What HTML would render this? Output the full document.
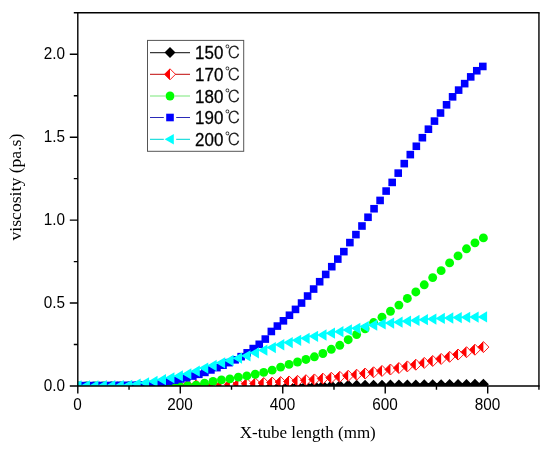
<!DOCTYPE html>
<html lang="en"><head><meta charset="utf-8"><title>Viscosity along X-tube length</title>
<style>html,body{margin:0;padding:0;background:#fff}svg{display:block}.t{font-family:"Liberation Sans","Noto Sans CJK SC",sans-serif;font-size:15.3px;fill:#000}.l{font-family:"Liberation Sans","IPAGothic",sans-serif;font-size:17.2px;fill:#000;stroke:#000;stroke-width:0.25px}.c{font-family:"Liberation Sans","IPAGothic",sans-serif;font-size:16.5px;fill:#222;stroke:none}.s{font-family:"Liberation Serif","Noto Serif CJK SC",serif;font-size:17px;fill:#000}</style></head><body>
<svg width="550" height="449" viewBox="0 0 550 449">
<rect width="550" height="449" fill="#fff"/>
<defs><clipPath id="cp"><rect x="77.8" y="12.78" width="461.14" height="373.22"/></clipPath></defs>
<g clip-path="url(#cp)">
<path fill="#000" d="M165.25 385.92L170.75 380.42L176.25 385.92L170.75 391.42ZM173.7 385.9L179.2 380.4L184.7 385.9L179.2 391.4ZM182.15 385.89L187.65 380.39L193.15 385.89L187.65 391.39ZM190.6 385.87L196.1 380.37L201.6 385.87L196.1 391.37ZM199.05 385.85L204.55 380.35L210.05 385.85L204.55 391.35ZM207.5 385.83L213 380.33L218.5 385.83L213 391.33ZM215.95 385.81L221.45 380.31L226.95 385.81L221.45 391.31ZM224.4 385.79L229.9 380.29L235.4 385.79L229.9 391.29ZM232.85 385.77L238.35 380.27L243.85 385.77L238.35 391.27ZM241.3 385.75L246.8 380.25L252.3 385.75L246.8 391.25ZM249.75 385.73L255.25 380.23L260.75 385.73L255.25 391.23ZM258.2 385.7L263.7 380.2L269.2 385.7L263.7 391.2ZM266.65 385.68L272.15 380.18L277.65 385.68L272.15 391.18ZM275.1 385.66L280.6 380.16L286.1 385.66L280.6 391.16ZM283.55 385.63L289.05 380.13L294.55 385.63L289.05 391.13ZM292 385.61L297.5 380.11L303 385.61L297.5 391.11ZM300.45 385.58L305.95 380.08L311.45 385.58L305.95 391.08ZM308.9 385.55L314.4 380.05L319.9 385.55L314.4 391.05ZM317.35 385.51L322.85 380.01L328.35 385.51L322.85 391.01ZM325.8 385.47L331.3 379.97L336.8 385.47L331.3 390.97ZM334.25 385.42L339.75 379.92L345.25 385.42L339.75 390.92ZM342.7 385.37L348.2 379.87L353.7 385.37L348.2 390.87ZM351.15 385.31L356.65 379.81L362.15 385.31L356.65 390.81ZM359.6 385.25L365.1 379.75L370.6 385.25L365.1 390.75ZM368.05 385.19L373.55 379.69L379.05 385.19L373.55 390.69ZM376.5 385.13L382 379.63L387.5 385.13L382 390.63ZM384.95 385.07L390.45 379.57L395.95 385.07L390.45 390.57ZM393.4 385.01L398.9 379.51L404.4 385.01L398.9 390.51ZM401.85 384.94L407.35 379.44L412.85 384.94L407.35 390.44ZM410.3 384.88L415.8 379.38L421.3 384.88L415.8 390.38ZM418.75 384.8L424.25 379.3L429.75 384.8L424.25 390.3ZM427.2 384.73L432.7 379.23L438.2 384.73L432.7 390.23ZM435.65 384.65L441.15 379.15L446.65 384.65L441.15 390.15ZM444.1 384.56L449.6 379.06L455.1 384.56L449.6 390.06ZM452.55 384.48L458.05 378.98L463.55 384.48L458.05 389.98ZM461 384.39L466.5 378.89L472 384.39L466.5 389.89ZM469.45 384.3L474.95 378.8L480.45 384.3L474.95 389.8ZM477.9 384.21L483.4 378.71L488.9 384.21L483.4 389.71Z"/>
<g>
<path fill="#fff" stroke="#f00" stroke-width="0.9" d="M165.25 385.7L170.75 380.2L176.25 385.7L170.75 391.2Z"/><path fill="#f00" d="M170.75 380.2L165.25 385.7L170.75 391.2Z"/>
<path fill="#fff" stroke="#f00" stroke-width="0.9" d="M173.7 385.6L179.2 380.1L184.7 385.6L179.2 391.1Z"/><path fill="#f00" d="M179.2 380.1L173.7 385.6L179.2 391.1Z"/>
<path fill="#fff" stroke="#f00" stroke-width="0.9" d="M182.15 385.48L187.65 379.98L193.15 385.48L187.65 390.98Z"/><path fill="#f00" d="M187.65 379.98L182.15 385.48L187.65 390.98Z"/>
<path fill="#fff" stroke="#f00" stroke-width="0.9" d="M190.6 385.33L196.1 379.83L201.6 385.33L196.1 390.83Z"/><path fill="#f00" d="M196.1 379.83L190.6 385.33L196.1 390.83Z"/>
<path fill="#fff" stroke="#f00" stroke-width="0.9" d="M199.05 385.16L204.55 379.66L210.05 385.16L204.55 390.66Z"/><path fill="#f00" d="M204.55 379.66L199.05 385.16L204.55 390.66Z"/>
<path fill="#fff" stroke="#f00" stroke-width="0.9" d="M207.5 384.96L213 379.46L218.5 384.96L213 390.46Z"/><path fill="#f00" d="M213 379.46L207.5 384.96L213 390.46Z"/>
<path fill="#fff" stroke="#f00" stroke-width="0.9" d="M215.95 384.73L221.45 379.23L226.95 384.73L221.45 390.23Z"/><path fill="#f00" d="M221.45 379.23L215.95 384.73L221.45 390.23Z"/>
<path fill="#fff" stroke="#f00" stroke-width="0.9" d="M224.4 384.47L229.9 378.97L235.4 384.47L229.9 389.97Z"/><path fill="#f00" d="M229.9 378.97L224.4 384.47L229.9 389.97Z"/>
<path fill="#fff" stroke="#f00" stroke-width="0.9" d="M232.85 384.17L238.35 378.67L243.85 384.17L238.35 389.67Z"/><path fill="#f00" d="M238.35 378.67L232.85 384.17L238.35 389.67Z"/>
<path fill="#fff" stroke="#f00" stroke-width="0.9" d="M241.3 383.84L246.8 378.34L252.3 383.84L246.8 389.34Z"/><path fill="#f00" d="M246.8 378.34L241.3 383.84L246.8 389.34Z"/>
<path fill="#fff" stroke="#f00" stroke-width="0.9" d="M249.75 383.46L255.25 377.96L260.75 383.46L255.25 388.96Z"/><path fill="#f00" d="M255.25 377.96L249.75 383.46L255.25 388.96Z"/>
<path fill="#fff" stroke="#f00" stroke-width="0.9" d="M258.2 383.04L263.7 377.54L269.2 383.04L263.7 388.54Z"/><path fill="#f00" d="M263.7 377.54L258.2 383.04L263.7 388.54Z"/>
<path fill="#fff" stroke="#f00" stroke-width="0.9" d="M266.65 382.57L272.15 377.07L277.65 382.57L272.15 388.07Z"/><path fill="#f00" d="M272.15 377.07L266.65 382.57L272.15 388.07Z"/>
<path fill="#fff" stroke="#f00" stroke-width="0.9" d="M275.1 382.05L280.6 376.55L286.1 382.05L280.6 387.55Z"/><path fill="#f00" d="M280.6 376.55L275.1 382.05L280.6 387.55Z"/>
<path fill="#fff" stroke="#f00" stroke-width="0.9" d="M283.55 381.48L289.05 375.98L294.55 381.48L289.05 386.98Z"/><path fill="#f00" d="M289.05 375.98L283.55 381.48L289.05 386.98Z"/>
<path fill="#fff" stroke="#f00" stroke-width="0.9" d="M292 380.86L297.5 375.36L303 380.86L297.5 386.36Z"/><path fill="#f00" d="M297.5 375.36L292 380.86L297.5 386.36Z"/>
<path fill="#fff" stroke="#f00" stroke-width="0.9" d="M300.45 380.17L305.95 374.67L311.45 380.17L305.95 385.67Z"/><path fill="#f00" d="M305.95 374.67L300.45 380.17L305.95 385.67Z"/>
<path fill="#fff" stroke="#f00" stroke-width="0.9" d="M308.9 379.43L314.4 373.93L319.9 379.43L314.4 384.93Z"/><path fill="#f00" d="M314.4 373.93L308.9 379.43L314.4 384.93Z"/>
<path fill="#fff" stroke="#f00" stroke-width="0.9" d="M317.35 378.62L322.85 373.12L328.35 378.62L322.85 384.12Z"/><path fill="#f00" d="M322.85 373.12L317.35 378.62L322.85 384.12Z"/>
<path fill="#fff" stroke="#f00" stroke-width="0.9" d="M325.8 377.75L331.3 372.25L336.8 377.75L331.3 383.25Z"/><path fill="#f00" d="M331.3 372.25L325.8 377.75L331.3 383.25Z"/>
<path fill="#fff" stroke="#f00" stroke-width="0.9" d="M334.25 376.81L339.75 371.31L345.25 376.81L339.75 382.31Z"/><path fill="#f00" d="M339.75 371.31L334.25 376.81L339.75 382.31Z"/>
<path fill="#fff" stroke="#f00" stroke-width="0.9" d="M342.7 375.79L348.2 370.29L353.7 375.79L348.2 381.29Z"/><path fill="#f00" d="M348.2 370.29L342.7 375.79L348.2 381.29Z"/>
<path fill="#fff" stroke="#f00" stroke-width="0.9" d="M351.15 374.7L356.65 369.2L362.15 374.7L356.65 380.2Z"/><path fill="#f00" d="M356.65 369.2L351.15 374.7L356.65 380.2Z"/>
<path fill="#fff" stroke="#f00" stroke-width="0.9" d="M359.6 373.53L365.1 368.03L370.6 373.53L365.1 379.03Z"/><path fill="#f00" d="M365.1 368.03L359.6 373.53L365.1 379.03Z"/>
<path fill="#fff" stroke="#f00" stroke-width="0.9" d="M368.05 372.28L373.55 366.78L379.05 372.28L373.55 377.78Z"/><path fill="#f00" d="M373.55 366.78L368.05 372.28L373.55 377.78Z"/>
<path fill="#fff" stroke="#f00" stroke-width="0.9" d="M376.5 370.95L382 365.45L387.5 370.95L382 376.45Z"/><path fill="#f00" d="M382 365.45L376.5 370.95L382 376.45Z"/>
<path fill="#fff" stroke="#f00" stroke-width="0.9" d="M384.95 369.52L390.45 364.02L395.95 369.52L390.45 375.02Z"/><path fill="#f00" d="M390.45 364.02L384.95 369.52L390.45 375.02Z"/>
<path fill="#fff" stroke="#f00" stroke-width="0.9" d="M393.4 368.01L398.9 362.51L404.4 368.01L398.9 373.51Z"/><path fill="#f00" d="M398.9 362.51L393.4 368.01L398.9 373.51Z"/>
<path fill="#fff" stroke="#f00" stroke-width="0.9" d="M401.85 366.4L407.35 360.9L412.85 366.4L407.35 371.9Z"/><path fill="#f00" d="M407.35 360.9L401.85 366.4L407.35 371.9Z"/>
<path fill="#fff" stroke="#f00" stroke-width="0.9" d="M410.3 364.69L415.8 359.19L421.3 364.69L415.8 370.19Z"/><path fill="#f00" d="M415.8 359.19L410.3 364.69L415.8 370.19Z"/>
<path fill="#fff" stroke="#f00" stroke-width="0.9" d="M418.75 362.88L424.25 357.38L429.75 362.88L424.25 368.38Z"/><path fill="#f00" d="M424.25 357.38L418.75 362.88L424.25 368.38Z"/>
<path fill="#fff" stroke="#f00" stroke-width="0.9" d="M427.2 360.96L432.7 355.46L438.2 360.96L432.7 366.46Z"/><path fill="#f00" d="M432.7 355.46L427.2 360.96L432.7 366.46Z"/>
<path fill="#fff" stroke="#f00" stroke-width="0.9" d="M435.65 358.94L441.15 353.44L446.65 358.94L441.15 364.44Z"/><path fill="#f00" d="M441.15 353.44L435.65 358.94L441.15 364.44Z"/>
<path fill="#fff" stroke="#f00" stroke-width="0.9" d="M444.1 356.81L449.6 351.31L455.1 356.81L449.6 362.31Z"/><path fill="#f00" d="M449.6 351.31L444.1 356.81L449.6 362.31Z"/>
<path fill="#fff" stroke="#f00" stroke-width="0.9" d="M452.55 354.56L458.05 349.06L463.55 354.56L458.05 360.06Z"/><path fill="#f00" d="M458.05 349.06L452.55 354.56L458.05 360.06Z"/>
<path fill="#fff" stroke="#f00" stroke-width="0.9" d="M461 352.2L466.5 346.7L472 352.2L466.5 357.7Z"/><path fill="#f00" d="M466.5 346.7L461 352.2L466.5 357.7Z"/>
<path fill="#fff" stroke="#f00" stroke-width="0.9" d="M469.45 349.71L474.95 344.21L480.45 349.71L474.95 355.21Z"/><path fill="#f00" d="M474.95 344.21L469.45 349.71L474.95 355.21Z"/>
<path fill="#fff" stroke="#f00" stroke-width="0.9" d="M477.9 347.1L483.4 341.6L488.9 347.1L483.4 352.6Z"/><path fill="#f00" d="M483.4 341.6L477.9 347.1L483.4 352.6Z"/>
</g>
<g fill="#0f0"><circle cx="77.8" cy="386" r="4.45"/><circle cx="86.25" cy="386" r="4.45"/><circle cx="94.7" cy="386" r="4.45"/><circle cx="103.15" cy="386" r="4.45"/><circle cx="111.6" cy="386" r="4.45"/><circle cx="120.05" cy="386" r="4.45"/><circle cx="128.5" cy="386" r="4.45"/><circle cx="136.95" cy="386" r="4.45"/><circle cx="145.4" cy="386" r="4.45"/><circle cx="153.85" cy="386" r="4.45"/><circle cx="162.3" cy="386" r="4.45"/><circle cx="170.75" cy="386" r="4.45"/><circle cx="179.2" cy="386" r="4.45"/><circle cx="187.65" cy="385.78" r="4.45"/><circle cx="196.1" cy="385.14" r="4.45"/><circle cx="204.55" cy="383.27" r="4.45"/><circle cx="213" cy="381.4" r="4.45"/><circle cx="221.45" cy="379.83" r="4.45"/><circle cx="229.9" cy="378.83" r="4.45"/><circle cx="238.35" cy="377.17" r="4.45"/><circle cx="246.8" cy="375.92" r="4.45"/><circle cx="255.25" cy="374.25" r="4.45"/><circle cx="263.7" cy="372.42" r="4.45"/><circle cx="272.15" cy="370.13" r="4.45"/><circle cx="280.6" cy="367.11" r="4.45"/><circle cx="289.05" cy="364.4" r="4.45"/><circle cx="297.5" cy="361.98" r="4.45"/><circle cx="305.95" cy="359.43" r="4.45"/><circle cx="314.4" cy="356.78" r="4.45"/><circle cx="322.85" cy="353.49" r="4.45"/><circle cx="331.3" cy="349.3" r="4.45"/><circle cx="339.75" cy="345.3" r="4.45"/><circle cx="348.2" cy="339.72" r="4.45"/><circle cx="356.65" cy="334.48" r="4.45"/><circle cx="365.1" cy="328.77" r="4.45"/><circle cx="373.55" cy="322.53" r="4.45"/><circle cx="382" cy="317.17" r="4.45"/><circle cx="390.45" cy="311.26" r="4.45"/><circle cx="398.9" cy="305.1" r="4.45"/><circle cx="407.35" cy="298.44" r="4.45"/><circle cx="415.8" cy="291.94" r="4.45"/><circle cx="424.25" cy="284.81" r="4.45"/><circle cx="432.7" cy="277.58" r="4.45"/><circle cx="441.15" cy="270.64" r="4.45"/><circle cx="449.6" cy="262.89" r="4.45"/><circle cx="458.05" cy="255.89" r="4.45"/><circle cx="466.5" cy="248.81" r="4.45"/><circle cx="474.95" cy="242.84" r="4.45"/><circle cx="483.4" cy="237.9" r="4.45"/></g>
<g fill="#00f"><rect x="74.2" y="381.8" width="7.6" height="7.6"/><rect x="80.24" y="381.8" width="7.6" height="7.6"/><rect x="86.28" y="381.78" width="7.6" height="7.6"/><rect x="92.33" y="381.76" width="7.6" height="7.6"/><rect x="98.37" y="381.72" width="7.6" height="7.6"/><rect x="104.41" y="381.68" width="7.6" height="7.6"/><rect x="110.45" y="381.64" width="7.6" height="7.6"/><rect x="116.49" y="381.58" width="7.6" height="7.6"/><rect x="122.53" y="381.52" width="7.6" height="7.6"/><rect x="128.58" y="381.44" width="7.6" height="7.6"/><rect x="134.62" y="381.29" width="7.6" height="7.6"/><rect x="140.66" y="381.08" width="7.6" height="7.6"/><rect x="146.7" y="380.77" width="7.6" height="7.6"/><rect x="152.74" y="379.88" width="7.6" height="7.6"/><rect x="158.79" y="378.69" width="7.6" height="7.6"/><rect x="164.83" y="377.47" width="7.6" height="7.6"/><rect x="170.87" y="376.33" width="7.6" height="7.6"/><rect x="176.91" y="375.16" width="7.6" height="7.6"/><rect x="182.95" y="373.86" width="7.6" height="7.6"/><rect x="188.99" y="372.24" width="7.6" height="7.6"/><rect x="195.04" y="370.51" width="7.6" height="7.6"/><rect x="201.08" y="368.58" width="7.6" height="7.6"/><rect x="207.12" y="366.14" width="7.6" height="7.6"/><rect x="213.16" y="363.82" width="7.6" height="7.6"/><rect x="219.2" y="361.4" width="7.6" height="7.6"/><rect x="225.24" y="358.84" width="7.6" height="7.6"/><rect x="231.29" y="356.03" width="7.6" height="7.6"/><rect x="237.33" y="352.87" width="7.6" height="7.6"/><rect x="243.37" y="349.03" width="7.6" height="7.6"/><rect x="249.41" y="344.78" width="7.6" height="7.6"/><rect x="255.45" y="340.51" width="7.6" height="7.6"/><rect x="261.5" y="335.28" width="7.6" height="7.6"/><rect x="267.54" y="327.66" width="7.6" height="7.6"/><rect x="273.58" y="322.27" width="7.6" height="7.6"/><rect x="279.62" y="317.02" width="7.6" height="7.6"/><rect x="285.66" y="311.45" width="7.6" height="7.6"/><rect x="291.7" y="305.58" width="7.6" height="7.6"/><rect x="297.75" y="299.24" width="7.6" height="7.6"/><rect x="303.79" y="292.23" width="7.6" height="7.6"/><rect x="309.83" y="285.25" width="7.6" height="7.6"/><rect x="315.87" y="277.92" width="7.6" height="7.6"/><rect x="321.91" y="270.63" width="7.6" height="7.6"/><rect x="327.96" y="262.89" width="7.6" height="7.6"/><rect x="334" y="255.29" width="7.6" height="7.6"/><rect x="340.04" y="247.83" width="7.6" height="7.6"/><rect x="346.08" y="238.79" width="7.6" height="7.6"/><rect x="352.12" y="230.8" width="7.6" height="7.6"/><rect x="358.16" y="222.2" width="7.6" height="7.6"/><rect x="364.21" y="213.45" width="7.6" height="7.6"/><rect x="370.25" y="204.94" width="7.6" height="7.6"/><rect x="376.29" y="196.63" width="7.6" height="7.6"/><rect x="382.33" y="187.26" width="7.6" height="7.6"/><rect x="388.37" y="178.61" width="7.6" height="7.6"/><rect x="394.41" y="169.32" width="7.6" height="7.6"/><rect x="400.46" y="159.83" width="7.6" height="7.6"/><rect x="406.5" y="150.81" width="7.6" height="7.6"/><rect x="412.54" y="142.46" width="7.6" height="7.6"/><rect x="418.58" y="133.9" width="7.6" height="7.6"/><rect x="424.62" y="125.4" width="7.6" height="7.6"/><rect x="430.67" y="117.31" width="7.6" height="7.6"/><rect x="436.71" y="109.21" width="7.6" height="7.6"/><rect x="442.75" y="101.02" width="7.6" height="7.6"/><rect x="448.79" y="93.03" width="7.6" height="7.6"/><rect x="454.83" y="86.31" width="7.6" height="7.6"/><rect x="460.87" y="79.83" width="7.6" height="7.6"/><rect x="466.92" y="73.08" width="7.6" height="7.6"/><rect x="472.96" y="66.95" width="7.6" height="7.6"/><rect x="479" y="62.65" width="7.6" height="7.6"/></g>
<path fill="#0ff" d="M72 385.8L81.5 380.15L81.5 391.45ZM80.45 385.8L89.95 380.15L89.95 391.45ZM88.9 385.79L98.4 380.14L98.4 391.44ZM97.35 385.77L106.85 380.12L106.85 391.42ZM105.8 385.74L115.3 380.09L115.3 391.39ZM114.25 385.7L123.75 380.05L123.75 391.35ZM122.7 385.3L132.2 379.65L132.2 390.95ZM131.15 384.07L140.65 378.42L140.65 389.72ZM139.6 382.8L149.1 377.15L149.1 388.45ZM148.05 381.41L157.55 375.76L157.55 387.06ZM156.5 379.65L166 374L166 385.3ZM164.95 377.8L174.45 372.15L174.45 383.45ZM173.4 375.89L182.9 370.24L182.9 381.54ZM181.85 373.93L191.35 368.28L191.35 379.58ZM190.3 371.2L199.8 365.55L199.8 376.85ZM198.75 368.12L208.25 362.47L208.25 373.77ZM207.2 365.5L216.7 359.85L216.7 371.15ZM215.65 362.87L225.15 357.22L225.15 368.52ZM224.1 360.49L233.6 354.84L233.6 366.14ZM232.55 358.22L242.05 352.57L242.05 363.87ZM241 355.78L250.5 350.13L250.5 361.43ZM249.45 352.86L258.95 347.21L258.95 358.51ZM257.9 350.18L267.4 344.53L267.4 355.83ZM266.35 347.6L275.85 341.95L275.85 353.25ZM274.8 344.74L284.3 339.09L284.3 350.39ZM283.25 342.57L292.75 336.92L292.75 348.22ZM291.7 340.33L301.2 334.68L301.2 345.98ZM300.15 338.33L309.65 332.68L309.65 343.98ZM308.6 336.35L318.1 330.7L318.1 342ZM317.05 335L326.55 329.35L326.55 340.65ZM325.5 333.2L335 327.55L335 338.85ZM333.95 331.65L343.45 326L343.45 337.3ZM342.4 329.89L351.9 324.24L351.9 335.54ZM350.85 328.35L360.35 322.7L360.35 334ZM359.3 326.59L368.8 320.94L368.8 332.24ZM367.75 325.13L377.25 319.48L377.25 330.78ZM376.2 323.93L385.7 318.28L385.7 329.58ZM384.65 323.03L394.15 317.38L394.15 328.68ZM393.1 322.14L402.6 316.49L402.6 327.79ZM401.55 321.24L411.05 315.59L411.05 326.89ZM410 320.45L419.5 314.8L419.5 326.1ZM418.45 319.64L427.95 313.99L427.95 325.29ZM426.9 319.04L436.4 313.39L436.4 324.69ZM435.35 318.43L444.85 312.78L444.85 324.08ZM443.8 318.01L453.3 312.36L453.3 323.66ZM452.25 317.61L461.75 311.96L461.75 323.26ZM460.7 317.31L470.2 311.66L470.2 322.96ZM469.15 317.11L478.65 311.46L478.65 322.76ZM477.6 316.91L487.1 311.26L487.1 322.56Z"/>
</g>
<g stroke="#000" stroke-width="1.4" fill="none" stroke-linecap="butt">
<path d="M77.8 12.78V393.4"/>
<path d="M69.8 386H539.64"/>
<path d="M73.8 12.78H539.64"/>
<path d="M538.94 12.78V389.7"/>
<path d="M73.8 344.53H77.8M69.8 303.06H77.8M73.8 261.59H77.8M69.8 220.12H77.8M73.8 178.66H77.8M69.8 137.19H77.8M73.8 95.72H77.8M69.8 54.25H77.8M129.04 386V389.7M180.27 386V393.4M231.51 386V389.7M282.75 386V393.4M333.99 386V389.7M385.23 386V393.4M436.46 386V389.7M487.7 386V393.4"/>
</g>
<text class="t" transform="translate(64.9 391.2) scale(1 1.05)" text-anchor="end">0.0</text>
<text class="t" transform="translate(64.9 308.26) scale(1 1.05)" text-anchor="end">0.5</text>
<text class="t" transform="translate(64.9 225.32) scale(1 1.05)" text-anchor="end">1.0</text>
<text class="t" transform="translate(64.9 142.39) scale(1 1.05)" text-anchor="end">1.5</text>
<text class="t" transform="translate(64.9 59.45) scale(1 1.05)" text-anchor="end">2.0</text>
<text class="t" transform="translate(77.6 410.4) scale(1 1.05)" text-anchor="middle">0</text>
<text class="t" transform="translate(180.07 410.4) scale(1 1.05)" text-anchor="middle">200</text>
<text class="t" transform="translate(282.55 410.4) scale(1 1.05)" text-anchor="middle">400</text>
<text class="t" transform="translate(385.03 410.4) scale(1 1.05)" text-anchor="middle">600</text>
<text class="t" transform="translate(487.5 410.4) scale(1 1.05)" text-anchor="middle">800</text>
<text class="s" x="307.8" y="438" text-anchor="middle">X-tube length (mm)</text>
<text class="s" transform="translate(20.7 187.1) rotate(-90) scale(1.04 1)" text-anchor="middle">viscosity (pa.s)</text>
<rect x="147.5" y="40.4" width="96.2" height="110.9" fill="#fff" stroke="#555" stroke-width="1"/>
<path d="M150 52.6H165.0M175.0 52.6H190" stroke="#3a3a3a" stroke-width="1.2" fill="none"/>
<path d="M150 74.3H165.0M175.0 74.3H190" stroke="#cc3a3a" stroke-width="1.2" fill="none"/>
<path d="M150 96.0H165.2M174.8 96.0H190" stroke="#7be87b" stroke-width="1.2" fill="none"/>
<path d="M150 117.5H163.8M176.2 117.5H190" stroke="#2a2ab8" stroke-width="1.2" fill="none"/>
<path d="M150 139.3H163.8M176.2 139.3H190" stroke="#28dede" stroke-width="1.2" fill="none"/>
<path fill="#000" d="M164.5 52.6L170 47.1L175.5 52.6L170 58.1Z"/>
<path fill="#fff" stroke="#f00" stroke-width="0.9" d="M164.5 74.3L170 68.8L175.5 74.3L170 79.8Z"/><path fill="#f00" d="M170 68.8L164.5 74.3L170 79.8Z"/>
<circle fill="#0f0" cx="170.0" cy="96.0" r="4.45"/>
<rect fill="#00f" x="166.2" y="113.7" width="7.6" height="7.6"/>
<path fill="#0ff" d="M164.6 139.3L173.8 134.1V144.5Z"/>
<text class="l" transform="translate(195.1 59.4) scale(0.985 1.07)">150<tspan class="c" dx="1.4">℃</tspan></text>
<text class="l" transform="translate(195.1 81.1) scale(0.985 1.07)">170<tspan class="c" dx="1.4">℃</tspan></text>
<text class="l" transform="translate(195.1 102.8) scale(0.985 1.07)">180<tspan class="c" dx="1.4">℃</tspan></text>
<text class="l" transform="translate(195.1 124.3) scale(0.985 1.07)">190<tspan class="c" dx="1.4">℃</tspan></text>
<text class="l" transform="translate(195.1 146.1) scale(0.985 1.07)">200<tspan class="c" dx="1.4">℃</tspan></text>
</svg></body></html>
